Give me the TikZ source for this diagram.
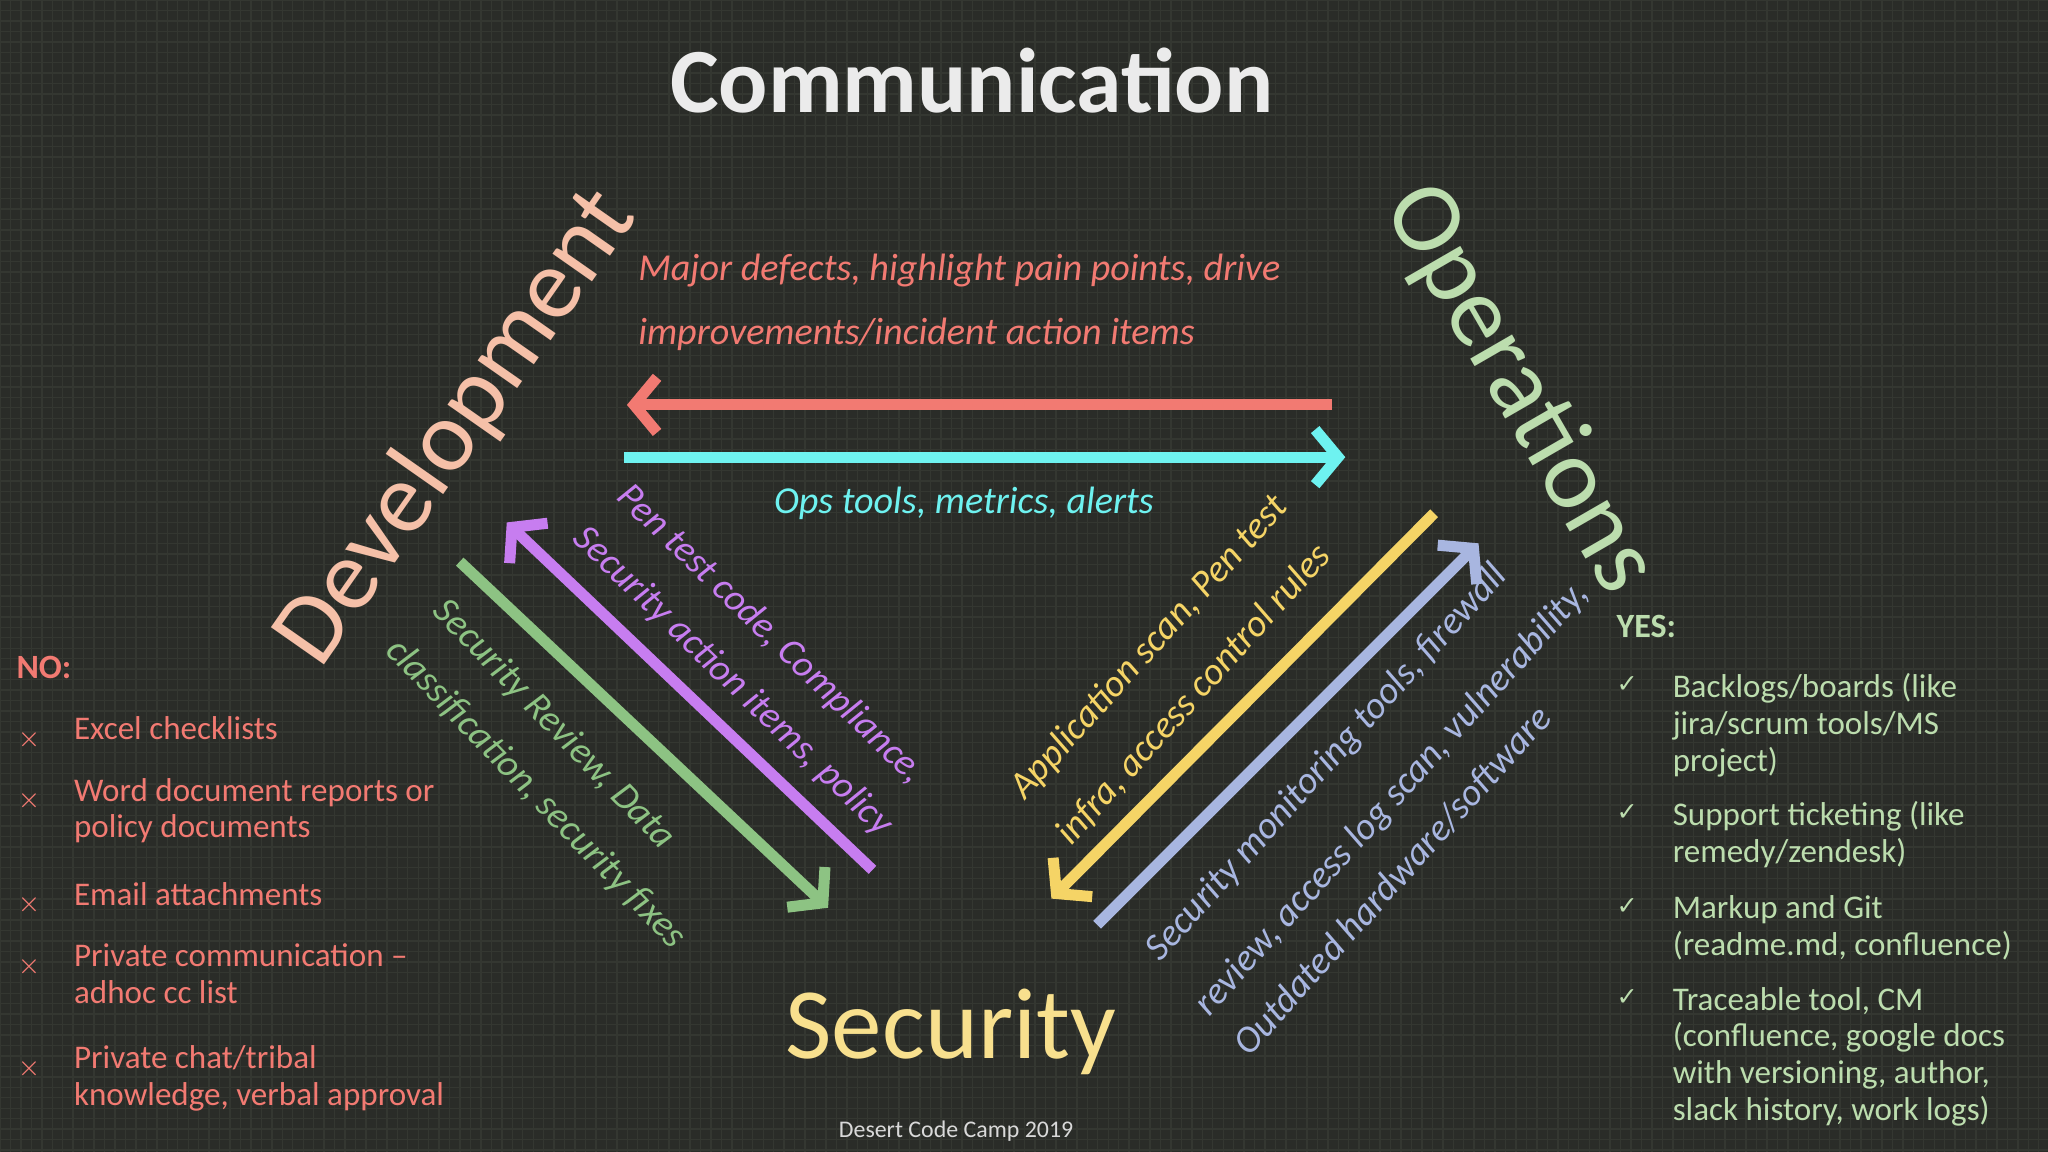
\documentclass[tikz,border=0pt]{standalone}
\usepackage{fontspec}
\setmainfont{Carlito}
\newfontfamily\djv{DejaVu Sans}
\usetikzlibrary{arrows.meta}
\definecolor{bg}{HTML}{2A2C28}
\definecolor{gridc}{HTML}{343731}
\definecolor{cred}{HTML}{F27A72}
\definecolor{ccyan}{HTML}{6EF2F0}
\definecolor{cgreen}{HTML}{8DC383}
\definecolor{cpurple}{HTML}{C77DF0}
\definecolor{cyellow}{HTML}{F5D466}
\definecolor{cblue}{HTML}{A8B6E0}
\definecolor{cdev}{HTML}{F5C0A8}
\definecolor{cops}{HTML}{BCDDAE}
\definecolor{csec}{HTML}{F8E08E}
\definecolor{cyes}{HTML}{BCDDAE}
\tikzset{
 arr/.style={line width=2.4pt,-{Straight Barb[length=5pt,width=12pt,line width=2.4pt]}},
 lab/.style={font=\fontsize{8.3}{10}\selectfont\itshape,inner sep=0},
 big/.style={font=\fontsize{22}{26}\selectfont,inner sep=0},
 lst/.style={font=\fontsize{7.2}{8}\selectfont,anchor=north west,align=left,inner sep=0},
 mk/.style={font=\fontsize{5}{6}\selectfont,anchor=north west,inner sep=0},
}
\begin{document}
\begin{tikzpicture}[x=0.01cm,y=-0.01cm]
\fill[bg] (0,0) rectangle (1568,882);
\useasboundingbox (0,0) rectangle (1568,882);
\draw[gridc,line width=0.3pt] (0,0) grid[step=0.08cm] (1568,882);
\node[font=\fontsize{20}{24}\selectfont\bfseries,text=white!92!black] (title) at (744,62) {Communication};
\node[big,text=cdev,rotate=55] (dev) at (350,328) {Development};
\node[big,text=cops,rotate=-60] (ops) at (1163,298) {Operations};
\node[big,text=csec] (sec) at (728,790) {Security};
% arrows
\coordinate (r1) at (1020,310); \coordinate (r2) at (480,310);
\coordinate (c1) at (478,350); \coordinate (c2) at (1030,350);
\coordinate (g1) at (352,430); \coordinate (g2) at (634,695);
\coordinate (p1) at (668,666); \coordinate (p2) at (388,400);
\coordinate (y1) at (1098,393); \coordinate (y2) at (805,688);
\coordinate (b1) at (840,708); \coordinate (b2) at (1132,416);
\draw[arr,cred] (r1) -- (r2);
\draw[arr,ccyan] (c1) -- (c2);
\draw[arr,cgreen] (g1) -- (g2);
\draw[arr,cpurple] (p1) -- (p2);
\draw[arr,cyellow] (y1) -- (y2);
\draw[arr,cblue] (b1) -- (b2);
% labels
\node[lab,text=cred,anchor=west] (m1) at (488,207) {Major defects, highlight pain points, drive};
\node[lab,text=cred,anchor=west] (m2) at (488,256) {improvements/incident action items};
\node[lab,text=ccyan] (o1) at (738,385) {Ops tools, metrics, alerts};
\node[lab,text=cpurple,rotate=-44] (pl1) at (590,486) {Pen test code, Compliance,};
\node[lab,text=cpurple,rotate=-44] (pl2) at (561,522) {Security action items, policy};
\node[lab,text=cgreen,rotate=-46] (gl1) at (424,555) {Security Review, Data};
\node[lab,text=cgreen,rotate=-46] (gl2) at (410,608) {classification, security fixes};
\node[lab,text=cyellow,rotate=48] (yl1) at (880,496) {Application scan, Pen test};
\node[lab,text=cyellow,rotate=48] (yl2) at (914,532) {infra, access control rules};
\node[lab,text=cblue,rotate=48] (bl1) at (1016,584) {Security monitoring tools, firewall};
\node[lab,text=cblue,rotate=48] (bl2) at (1066,612) {review, access log scan, vulnerability,};
\node[lab,text=cblue,rotate=48] (bl3) at (1066,674) {Outdated hardware/software};
% NO list
\node[font=\fontsize{7.4}{9}\selectfont\bfseries,text=cred,anchor=west,inner sep=0] (no) at (12,511) {NO:};
\foreach \y/\t in {548/{Excel checklists},595/{Word document reports or\\policy documents},675/{Email attachments},722/{Private communication --\\adhoc cc list},800/{Private chat/tribal\\knowledge, verbal approval}}{
  \node[mk,text=cred] at (12,\y+10) {$\times$};
  \node[lst,text=cred] at (56,\y) {\t};
}
% YES list
\node[font=\fontsize{7.4}{9}\selectfont\bfseries,text=cyes,anchor=west,inner sep=0] (yes) at (1237,480) {YES:};
\foreach \y/\t in {515/{Backlogs/boards (like\\jira/scrum tools/MS\\project)},613/{Support ticketing (like\\remedy/zendesk)},685/{Markup and Git\\(readme.md, confluence)},755/{Traceable tool, CM\\(confluence, google docs\\with versioning, author,\\slack history, work logs)}}{
  \node[mk,text=cyes,font=\djv\fontsize{5.5}{7}\selectfont] at (1237,\y+2) {✓};
  \node[lst,text=cyes] at (1280,\y) {\t};
}
\node[font=\fontsize{5.2}{6}\selectfont,text=white!85!black] (foot) at (732,866) {Desert Code Camp 2019};
\end{tikzpicture}
\end{document}
